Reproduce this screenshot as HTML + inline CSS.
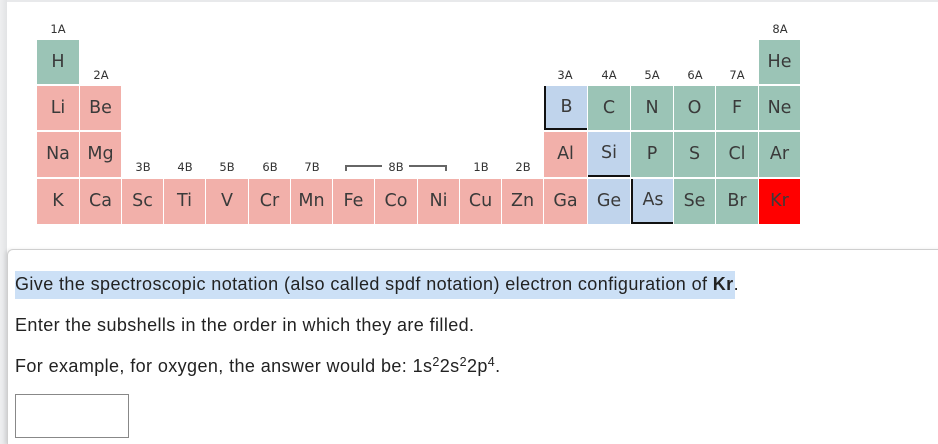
<!DOCTYPE html>
<html style="overflow:hidden;height:444px"><head><style>
body{margin:0;width:938px;height:444px;background:#fff;position:relative;overflow:hidden;font-family:"Liberation Sans",sans-serif;}
.strip{position:absolute;left:0;top:0;width:7px;height:444px;background:linear-gradient(to right,#eeeff0,#e2e3e5);}
.topl{position:absolute;left:0;top:0;width:938px;height:2px;background:#e8e9eb;}
.c{position:absolute;height:44px;font-size:17.5px;font-family:"DejaVu Sans",sans-serif;color:#3a3a3a;text-align:center;line-height:44px;box-sizing:border-box;}
.p{background:#f2b0aa}.g{background:#9bc4b6}.b{background:#c0d4ec}.r{background:#ff0000}
.l{position:absolute;font-size:11.5px;font-family:"DejaVu Sans",sans-serif;color:#333;text-align:center;width:42px;}
.panel{position:absolute;left:7px;top:249px;width:940px;height:194px;border:1px solid #cfcfcf;border-bottom:none;border-radius:6px 0 0 0;background:#fff;box-shadow:-2px 0 3px rgba(0,0,0,0.08);}
.t{position:absolute;left:15px;font-size:18px;color:#222;font-family:"Liberation Sans",sans-serif;letter-spacing:0.4px;white-space:nowrap;}
sup{font-size:12.5px;vertical-align:6px;line-height:0;}
</style></head><body>
<div class="topl"></div><div class="strip"></div>
<div id="pt"></div>
<div class="panel"></div>
<div style="position:absolute;left:15px;top:271px;width:720px;height:28px;background:#cce0f6"></div>
<div class="t" style="top:274px;">Give the spectroscopic notation (also called spdf notation) electron configuration of <b>Kr</b>.</div>
<div class="t" style="top:315px;">Enter the subshells in the order in which they are filled.</div>
<div class="t" style="top:356px;">For example, for oxygen, the answer would be: 1s<sup>2</sup>2s<sup>2</sup>2p<sup>4</sup>.</div>
<div style="position:absolute;left:15px;top:394px;width:114px;height:44px;border:1px solid #888;box-sizing:border-box;background:#fff"></div>
<script>
var X=[37,80,122,164,206,249,291,333,375,418,460,502,544,588,631,674,716,759];
var W=[42,41,41,41,42,41,41,41,42,41,41,41,43,42,42,41,42,41];
var Y=[40,86,132,179];
var H=[44,44,45,45];
var cells=[
[0,0,'H','g'],[17,0,'He','g'],
[0,1,'Li','p'],[1,1,'Be','p'],[12,1,'B','b','bl'],[13,1,'C','g'],[14,1,'N','g'],[15,1,'O','g'],[16,1,'F','g'],[17,1,'Ne','g'],
[0,2,'Na','p'],[1,2,'Mg','p'],[12,2,'Al','p'],[13,2,'Si','b','b'],[14,2,'P','g'],[15,2,'S','g'],[16,2,'Cl','g'],[17,2,'Ar','g'],
[0,3,'K','p'],[1,3,'Ca','p'],[2,3,'Sc','p'],[3,3,'Ti','p'],[4,3,'V','p'],[5,3,'Cr','p'],[6,3,'Mn','p'],[7,3,'Fe','p'],[8,3,'Co','p'],[9,3,'Ni','p'],[10,3,'Cu','p'],[11,3,'Zn','p'],[12,3,'Ga','p'],[13,3,'Ge','b'],[14,3,'As','b','bl'],[15,3,'Se','g'],[16,3,'Br','g'],[17,3,'Kr','r']];
var h='';
cells.forEach(function(c){var st='left:'+X[c[0]]+'px;top:'+Y[c[1]]+'px;width:'+W[c[0]]+'px;height:'+H[c[1]]+'px;';
if(c[4]){st+='border-bottom:2px solid #111;';if(c[4]=='bl')st+='border-left:2px solid #111;';st+='line-height:'+(H[c[1]]-2)+'px;';}
h+='<div class="c '+c[3]+'" style="'+st+'">'+c[2]+'</div>';});
var labs=[[0,22,'1A'],[17,22,'8A'],[1,68,'2A'],[12,68,'3A'],[13,68,'4A'],[14,68,'5A'],[15,68,'6A'],[16,68,'7A'],
[2,160,'3B'],[3,160,'4B'],[4,160,'5B'],[5,160,'6B'],[6,160,'7B'],[8,160,'8B'],[10,160,'1B'],[11,160,'2B']];
labs.forEach(function(l){h+='<div class="l" style="left:'+X[l[0]]+'px;top:'+l[1]+'px;">'+l[2]+'</div>';});
h+='<div style="position:absolute;left:345px;top:165px;width:35px;height:4px;border-top:2px solid #666;border-left:2px solid #666;"></div>';
h+='<div style="position:absolute;left:409px;top:165px;width:36px;height:4px;border-top:2px solid #666;border-right:2px solid #666;"></div>';
document.getElementById('pt').innerHTML=h;
</script>
</body></html>
